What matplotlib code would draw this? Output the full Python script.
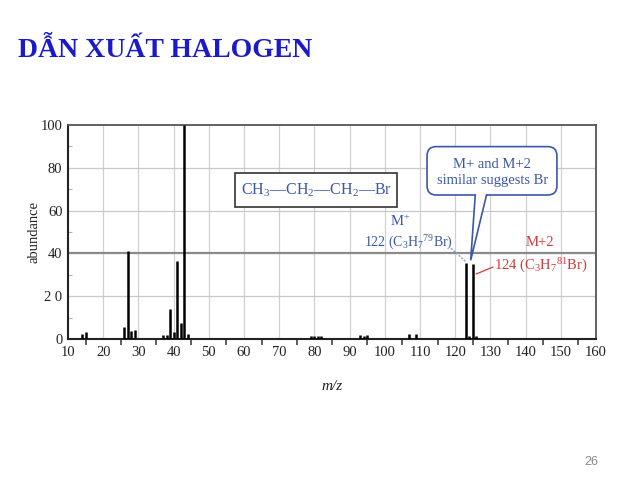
import matplotlib
matplotlib.use("Agg")
import matplotlib.pyplot as plt
from matplotlib.patches import Rectangle, FancyBboxPatch, Polygon

plt.rcParams['font.family'] = ['Liberation Serif', 'DejaVu Serif']
plt.rcParams['mathtext.fontset'] = 'custom'
plt.rcParams['mathtext.rm'] = 'Liberation Serif'
plt.rcParams['mathtext.it'] = 'Liberation Serif:italic'

# ---- data ----
mz = [14, 15, 26, 27, 28, 29, 37, 38, 39, 40, 41, 42, 43, 44,
      79, 80, 81, 82, 93, 94, 95, 107, 109, 123, 124, 125, 126]
abundance = [2.4, 3.4, 5.5, 41, 3.6, 4.4, 2.1, 2.1, 14.1, 3.2, 36.5, 7.4, 100, 2.4,
             1.6, 1.6, 1.6, 1.6, 2.0, 1.5, 2.0, 2.5, 2.5, 35.7, 1.4, 35.1, 1.4]
x_tick_values = list(range(10, 161, 10))
x_tick_labels = [str(v) for v in x_tick_values]
y_tick_values = [0, 20, 40, 60, 80, 100]
y_tick_labels = ["0", "2 0", "40", "60", "80", "100"]

title = "DẪN XUẤT HALOGEN"
formula = "CH$_3$—CH$_2$—CH$_2$—Br"
bubble_text = "M+ and M+2\nsimilar suggests Br"
mplus_label = "M$^{+}$"
mplus_formula = "122 (C$_3$H$_7$$^{79}$Br)"
m2_label = "M+2"
m2_formula = "124 (C$_3$H$_7$$^{81}$Br)"

W, H = 638, 493
fig = plt.figure(figsize=(W / 100, H / 100), dpi=100)
fig.patch.set_facecolor('white')

L, R, B, T = 68, 596, 339, 125
ax = fig.add_axes([L / W, 1 - B / H, (R - L) / W, (B - T) / H])
ax.set_xlim(10, 160)
ax.set_ylim(0, 100)

# grid
for xv in range(20, 160, 10):
    ax.axvline(xv, color='#d0d0d0', lw=0.9, zorder=0)
for yv in [20, 60, 80]:
    ax.axhline(yv, color='#c8c8c8', lw=0.9, zorder=0)
ax.axhline(40, color='#8a8a8a', lw=1.6, zorder=0)

# bars
ax.vlines(mz, 0, abundance, colors='black', lw=1.8, zorder=3)

# ticks
ax.set_xticks(x_tick_values)
ax.set_xticklabels(x_tick_labels, fontsize=10.5, color='#222222')
ax.tick_params(axis='x', which='major', length=0, pad=5)
ax.set_xticks(list(range(15, 160, 10)), minor=True)
ax.tick_params(axis='x', which='minor', direction='out', length=4, width=1.1, color='#333333')
ax.set_yticks(y_tick_values)
ax.set_yticklabels(y_tick_labels, fontsize=10.5, color='#222222')
ax.tick_params(axis='y', which='major', length=0, pad=4)
ax.set_yticks([10, 30, 50, 70, 90], minor=True)
ax.tick_params(axis='y', which='minor', direction='in', length=3, width=0.8, color='#b0b0b0')

for s in ['left', 'bottom']:
    ax.spines[s].set_color('#222222')
    ax.spines[s].set_linewidth(1.5)
for s in ['top', 'right']:
    ax.spines[s].set_color('#555555')
    ax.spines[s].set_linewidth(1.3)

ax.set_xlabel("m/z", fontsize=11, style='italic', color='#222222')
ax.xaxis.set_label_coords(0.5, -0.19)
ax.set_ylabel("abundance", fontsize=10.5, color='#222222')
ax.yaxis.set_label_coords(-0.052, 0.5)

blue = '#3a58a8'
red = '#d23a3a'

# formula box
ax.add_patch(Rectangle((57.4, 61.5), 46.1, 16.2, fill=True, facecolor='white',
                       edgecolor='#333333', lw=1.2, zorder=4))
ax.text(80.5, 69.4, formula, color=blue, fontsize=11.5, ha='center', va='center', zorder=5)

# speech bubble
bub = FancyBboxPatch((112.0, 67.3), 36.9, 22.6,
                     boxstyle="round,pad=0,rounding_size=2.6",
                     mutation_aspect=1.65, facecolor='white', edgecolor=blue,
                     lw=1.2, zorder=4)
ax.add_patch(bub)
ax.add_patch(Polygon([(125.7, 68.2), (128.9, 68.2), (124.4, 36.8)], closed=True,
                     facecolor='white', edgecolor='none', zorder=5))
ax.plot([125.7, 124.4, 128.9], [67.3, 36.8, 67.3], color=blue, lw=1.2, zorder=6,
        solid_joinstyle='miter')
ax.text(130.5, 78.0, bubble_text, color=blue, fontsize=10.5, ha='center', va='center',
        linespacing=1.3, zorder=7)

# M+ annotation
ax.text(104.3, 54.8, mplus_label, color=blue, fontsize=10.5, ha='center', va='center', zorder=5)
ax.text(106.8, 44.9, mplus_formula, color=blue, fontsize=10, ha='center', va='center', zorder=5)
ax.plot([118.8, 123.0], [42.4, 36.2], color='#8aa0c8', lw=1.0, ls=(0, (1.5, 1)), zorder=5)

# M+2 annotation
ax.text(144.1, 45.3, m2_label, color=red, fontsize=10.5, ha='center', va='center', zorder=5)
ax.text(130.9, 34.1, m2_formula, color=red, fontsize=10.5, ha='left', va='center', zorder=5)
ax.plot([130.7, 126.0], [33.6, 30.4], color=red, lw=0.9, zorder=5)

# title and page number
fig.text(18 / W, 1 - 50 / H, title, fontsize=20, fontweight='bold', color='#1a1acc',
         ha='left', va='center', family=['Liberation Serif'])
fig.text(591 / W, 1 - 462 / H, "26", fontsize=9, color='#888888', ha='center', va='center',
         family=['Liberation Sans'])

fig.savefig("out.png", dpi=100)
